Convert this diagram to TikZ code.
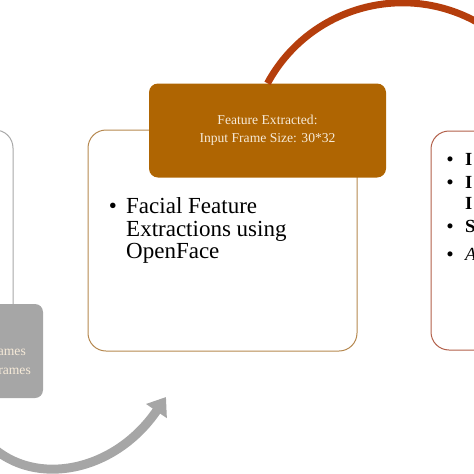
\documentclass[tikz,border=0pt]{standalone}
\usepackage{fontspec}
\setmainfont{Liberation Serif}
\usetikzlibrary{arrows.meta}
\definecolor{grayline}{HTML}{A8A8A8}
\definecolor{grayfill}{HTML}{A6A6A6}
\definecolor{midline}{HTML}{B5884F}
\definecolor{rightline}{HTML}{B2604A}
\definecolor{featfill}{HTML}{AF6502}
\definecolor{feattext}{HTML}{F6EAD8}
\definecolor{arcred}{HTML}{B53E0C}
\tikzset{
  panel/.style={draw, line width=1pt, rounded corners=18pt},
  bigtext/.style={font=\fontsize{23}{24}\selectfont, inner sep=0pt},
  boldtext/.style={font=\fontsize{18.5}{20}\selectfont\bfseries, inner sep=0pt},
  smalltext/.style={font=\fontsize{13.6}{19}\selectfont, inner sep=0pt},
}
\begin{document}
\begin{tikzpicture}[x=1pt,y=-1pt]
\useasboundingbox (0,0) rectangle (474,474);
\clip (0,0) rectangle (474,474);
% left box outline (cropped)
\draw[panel, grayline] (-150,130) rectangle (13,385);
% gray box
\node[fill=grayfill, rounded corners=8pt, minimum width=80pt, minimum height=94pt, inner sep=0pt] (gbox) at (3,351) {};
\node[smalltext, text=feattext, anchor=base east] (g1) at (26,355) {Frames};
\node[smalltext, text=feattext, anchor=base east] (g2) at (31,374) {Frames};
% middle box
\draw[panel, midline] (88,130) rectangle (357,351);
% right box
\draw[panel, rightline] (431,131) rectangle (560,350);
% feature box
\node[fill=featfill, rounded corners=9pt, minimum width=237pt, minimum height=94pt, inner sep=0pt] (feat) at (267.5,130.5) {};
\node[smalltext, text=feattext] (f1) at (267.5,120) {Feature Extracted:};
\node[smalltext, text=feattext] (f2) at (267.5,139) {Input Frame Size: 30*32};
% middle text
\node[bigtext, anchor=base] (mb) at (113,213) {•};
\node[bigtext, anchor=base west] (m1) at (126,213) {Facial Feature};
\node[bigtext, anchor=base west] (m2) at (126,236) {Extractions using};
\node[bigtext, anchor=base west] (m3) at (126,258) {OpenFace};
% right text
\node[boldtext, anchor=base] (rb1) at (450,165) {•};
\node[boldtext, anchor=base west] (r1) at (465,165) {I};
\node[boldtext, anchor=base] (rb2) at (450,188) {•};
\node[boldtext, anchor=base west] (r2) at (465,188) {I};
\node[boldtext, anchor=base west] (r3) at (465,209) {I};
\node[boldtext, anchor=base] (rb3) at (450,232) {•};
\node[boldtext, anchor=base west] (r4) at (465,232) {S};
\node[boldtext, anchor=base] (rb4) at (450,260) {•};
\node[font=\fontsize{18.5}{20}\selectfont\itshape, inner sep=0pt, anchor=base west] (r5) at (465,260) {A};
% red arc
\draw[arcred, line width=7pt] (feat.north) arc[start angle=-151.6, end angle=-20, radius=153.5];
% gray arrow
\coordinate (gs) at (-10,445);
\coordinate (gt) at (166,397);
\draw[grayfill, line width=9pt, -{Triangle[width=24pt,length=17pt]}] (gs) .. controls (35,488) and (115,472) .. (gt);
\end{tikzpicture}
\end{document}
